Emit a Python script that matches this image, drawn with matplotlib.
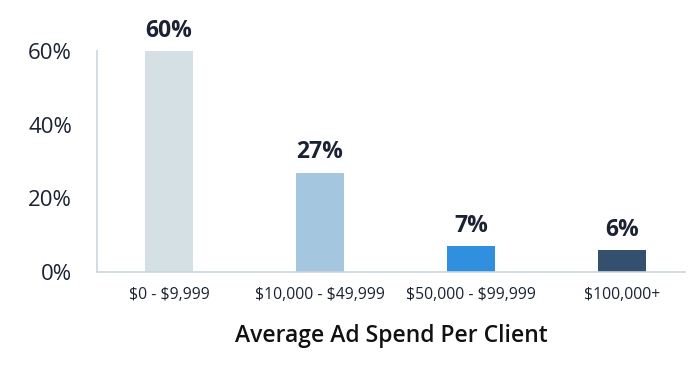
import matplotlib.pyplot as plt

categories = ["$0 - $9,999", "$10,000 - $49,999", "$50,000 - $99,999", "$100,000+"]
shares = [60, 27, 7, 6]
bar_colors = ["#d5e0e5", "#a5c6df", "#318fe0", "#34506e"]
y_ticks = [0, 20, 40, 60]

plt.rcParams['font.family'] = ['Open Sans', 'DejaVu Sans']
plt.rcParams['text.parse_math'] = False
text_color = "#1b2232"
spine_color = "#c9d6de"

fig = plt.figure(figsize=(6.97, 3.67), dpi=100)
ax = fig.add_axes([0.139, 0.259, 0.844, 0.602])

x = range(len(categories))
bars = ax.bar(x, shares, width=0.32, color=bar_colors)

for rect, v in zip(bars, shares):
    ax.annotate(f"{v}%", (rect.get_x() + rect.get_width() / 2, v),
                xytext=(0, 6), textcoords="offset points",
                ha="center", va="bottom", fontsize=16.5, fontweight="bold",
                color=text_color)

ax.set_xlim(-0.477, 3.417)
ax.set_ylim(0, 60)
ax.set_yticks(y_ticks)
ax.set_yticklabels([f"{t}%" for t in y_ticks], fontsize=16, color=text_color)
ax.set_xticks(list(x))
ax.set_xticklabels(categories, fontsize=11.3, color=text_color)
ax.tick_params(axis="y", length=0, pad=18)
ax.tick_params(axis="x", length=0, pad=11)

ax.set_xlabel("Average Ad Spend Per Client", fontsize=16.5, fontweight="semibold",
              color="#111111", labelpad=15)

for side in ["top", "right"]:
    ax.spines[side].set_visible(False)
for side in ["left", "bottom"]:
    ax.spines[side].set_color(spine_color)
    ax.spines[side].set_linewidth(1.2)

fig.savefig("out.png", dpi=100)
